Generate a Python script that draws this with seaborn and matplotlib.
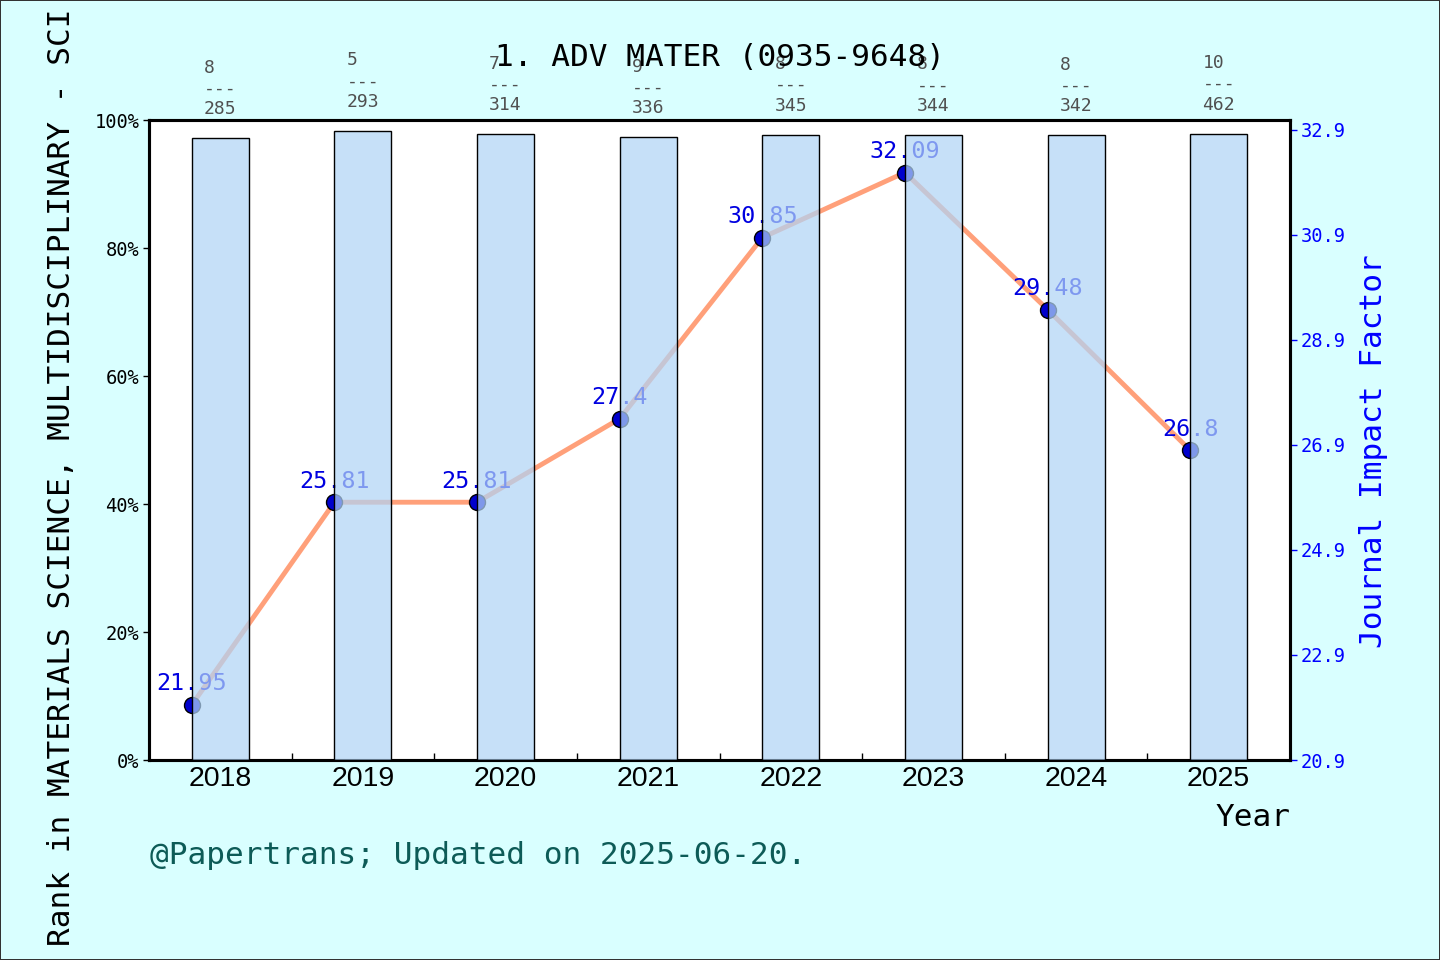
import matplotlib
matplotlib.use("Agg")
import matplotlib.pyplot as plt
import matplotlib.colors as mcolors
import seaborn as sns
import numpy as np
import pandas as pd

# ---- data ----
years = ["2018", "2019", "2020", "2021", "2022", "2023", "2024", "2025"]
ranks = [8, 5, 7, 9, 8, 8, 8, 10]
totals = [285, 293, 314, 336, 345, 344, 342, 462]
impact = [21.95, 25.81, 25.81, 27.4, 30.85, 32.09, 29.48, 26.8]
impact_labels = ["21.95", "25.81", "25.81", "27.4", "30.85", "32.09", "29.48", "26.8"]
right_ticks = [20.9, 22.9, 24.9, 26.9, 28.9, 30.9, 32.9]
left_ticks = [0, 20, 40, 60, 80, 100]

pct = [(1 - r / t) * 100 for r, t in zip(ranks, totals)]
df = pd.DataFrame({"year": years, "pct": pct, "impact": impact})
idx = np.arange(len(years))
df["xline"] = idx - 0.2

MONO = "DejaVu Sans Mono"
BG = "#d9ffff"

fig = plt.figure(figsize=(14.4, 9.6), dpi=100, facecolor=BG,
                 edgecolor="#333333", linewidth=1.2)
ax = fig.add_axes([149 / 1440, 1 - 760 / 960, (1290 - 149) / 1440, (760 - 120) / 960])
ax2 = ax.twinx()
ax.set_zorder(2)
ax2.set_zorder(1)
ax.patch.set_visible(False)
ax2.patch.set_facecolor("white")
ax2.patch.set_visible(True)

# line on impact-factor axis (drawn beneath the bars)
sns.lineplot(data=df, x="xline", y="impact", ax=ax2, color="#ffa07a",
             linewidth=3.5, marker="o", markersize=11.5,
             markerfacecolor="#0000cd", markeredgecolor="black",
             markeredgewidth=1, zorder=2)
for xv, yv, lab in zip(df["xline"], impact, impact_labels):
    ax2.annotate(lab, (xv, yv), xytext=(0, 10.5), textcoords="offset points",
                 ha="center", va="baseline", color="#0000e0",
                 fontsize=16.8, family=MONO, zorder=3)

# bars on rank-percentage axis (drawn above the line, translucent)
sns.barplot(data=df, x="year", y="pct", ax=ax, color="#b0d4f6", saturation=1,
            width=0.4, edgecolor="black", linewidth=1, zorder=3)
face = mcolors.to_rgba("#b0d4f6", 0.72)
for p in ax.patches:
    p.set_alpha(None)
    p.set_facecolor(face)
    p.set_edgecolor("black")

for i, (r, t, h) in enumerate(zip(ranks, totals, pct)):
    ax.text(i, h + 3.1, f"{r}\n---\n{t}", ha="center", va="bottom",
            multialignment="left", color="#505050", fontsize=13,
            family=MONO, linespacing=1.2, clip_on=False)

# x axis
ax.set_xlim(-0.5, 7.5)
ax.set_xticks(idx)
ax.set_xticklabels(years, fontsize=20.5, family="Liberation Sans")
ax.tick_params(axis="x", which="major", length=0, pad=4)
ax.set_xticks(idx[:-1] + 0.5, minor=True)
ax.tick_params(axis="x", which="minor", direction="in", length=5, width=1)
ax.set_xlabel("")
ax.set_ylabel("")

# left axis
ax.set_ylim(0, 100)
ax.set_yticks(left_ticks)
ax.set_yticklabels([f"{v}%" for v in left_ticks], fontsize=13.5, family=MONO)
ax.tick_params(axis="y", direction="out", length=4, width=1, pad=3)

# right axis
ax2.set_ylim(20.9, 33.09)
ax2.set_yticks(right_ticks)
ax2.set_yticklabels([f"{v:.1f}" for v in right_ticks], fontsize=13.5,
                    family=MONO, color="blue")
ax2.tick_params(axis="y", direction="out", length=5, width=1, colors="blue", pad=3)
ax2.set_ylabel("")
ax2.set_xlabel("")

for a in (ax, ax2):
    for s in a.spines.values():
        s.set_linewidth(2.2)
        s.set_color("black")

# texts
fig.text(0.5, 1 - 57 / 960, "1. ADV MATER (0935-9648)", ha="center", va="center",
         fontsize=22.4, family=MONO, color="black")
fig.text(62 / 1440, 1 - 477 / 960,
         "Rank in MATERIALS SCIENCE, MULTIDISCIPLINARY - SCI",
         rotation=90, ha="center", va="center", fontsize=22.4, family=MONO,
         color="black")
fig.text(1373 / 1440, 1 - 451 / 960, "Journal Impact Factor", rotation=90,
         ha="center", va="center", fontsize=22.4, family=MONO, color="blue")
fig.text(1290 / 1440, 1 - 817 / 960, "Year", ha="right", va="center",
         fontsize=22.4, family=MONO, color="black")
fig.text(150 / 1440, 1 - 855 / 960, "@Papertrans; Updated on 2025-06-20.",
         ha="left", va="center", fontsize=22.4, family=MONO, color="#0d5b57")

fig.savefig("out.png", dpi=100, facecolor=BG, edgecolor="#333333")
